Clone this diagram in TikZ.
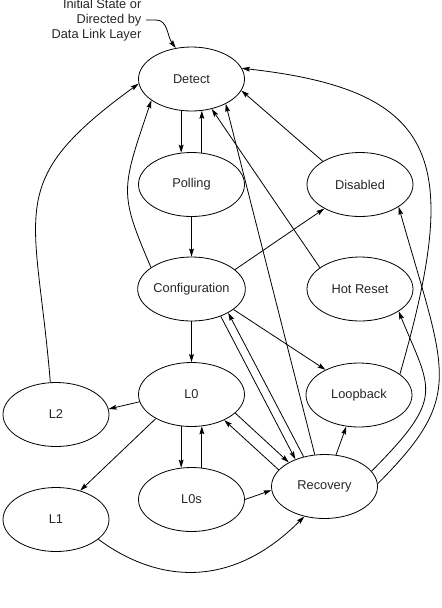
\documentclass[tikz,border=0pt]{standalone}
\usepackage{fontspec}
\setmainfont{Liberation Sans}
\usetikzlibrary{shapes.geometric, arrows.meta, positioning}

\tikzset{
  stnode/.style={ellipse, draw, line width=0.6pt, minimum width=79.5pt,
    minimum height=48pt, inner sep=0pt, text=black!85},
  link/.style={-{Stealth[length=6pt,width=3.6pt,inset=1pt]}, line width=0.6pt},
}

\begin{document}
\begin{tikzpicture}[x=0.75pt,y=-0.75pt,font=\fontsize{9.6}{11.25}\selectfont]
  \useasboundingbox (0,0) rectangle (442,608);
  % states
  \node[stnode] (det) at (191.5,79) {Detect};
  \node[stnode] (pol) at (191.5,184.5) {Polling};
  \node[stnode] (dis) at (360,184.5) {Disabled};
  \node[stnode] (cfg) at (191.5,289) {Configuration};
  \node[stnode] (hot) at (360,289) {Hot Reset};
  \node[stnode] (lz) at (191.5,394.5) {L0};
  \node[stnode] (lpb) at (359,395) {Loopback};
  \node[stnode] (ltwo) at (56,414.5) {L2};
  \node[stnode] (lone) at (56,519.5) {L1};
  \node[stnode] (lzs) at (191.5,499.5) {L0s};
  \node[stnode] (rec) at (324.5,486.5) {Recovery};
  \node[anchor=east, align=right, text=black!85] (init) at (146,20)
    {Initial State or\\Directed by\\Data Link Layer};
  \draw[link] (init.east) -- ++(10,0) .. controls (168,20) and (167,36) .. (det.117);
  % main column
  \draw[link] (det.-108) -- (pol.108);
  \draw[link] (pol.72) -- (det.-72);
  \draw[link] (pol) -- (cfg);
  \draw[link] (cfg) -- (lz);
  \draw[link] (lz.-108) -- (lzs.108);
  \draw[link] (lzs.72) -- (lz.-72);
  % low power states
  \draw[link] (lz.-172) -- (ltwo.6);
  \draw[link] (lz.-146) -- (lone.50);
  \draw[link] (ltwo.100) .. controls (36,208) and (2,183) .. (det.185);
  \draw[link] (lone.-25) .. controls (152.6,579.5) and (227.4,593.6) .. (rec.-124);
  % back to detect
  \draw[link] (cfg.152) .. controls (119,193) and (121,190) .. (det.-152);
  \draw[link] (hot.152) -- (det.-56);
  \draw[link] (dis.148) -- (det.-13);
  \draw[link] (rec.107) -- (det.-36);
  \draw[link] (lpb.27) .. controls (460.7,162.5) and (443.3,90.6) .. (det.12);
  % configuration and recovery
  \draw[link] (cfg.24) -- (dis.-146);
  \draw[link] (cfg.-26) -- (lpb.143);
  \draw[link] (cfg.-43) -- (rec.137);
  \draw[link] (rec.125) -- (cfg.-33);
  \draw[link] (lz.-23) -- (rec.146);
  \draw[link] (rec.160) -- (lz.-38);
  \draw[link] (lzs.0) -- (rec.184);
  \draw[link] (rec.70) -- (lpb.-112);
  \draw[link] (rec.18) .. controls (445.7,396.3) and (431.3,391) .. (hot.-30);
  \draw[link] (rec.3) .. controls (465.8,395.3) and (446.3,374.6) .. (dis.-30);
\end{tikzpicture}
\end{document}
